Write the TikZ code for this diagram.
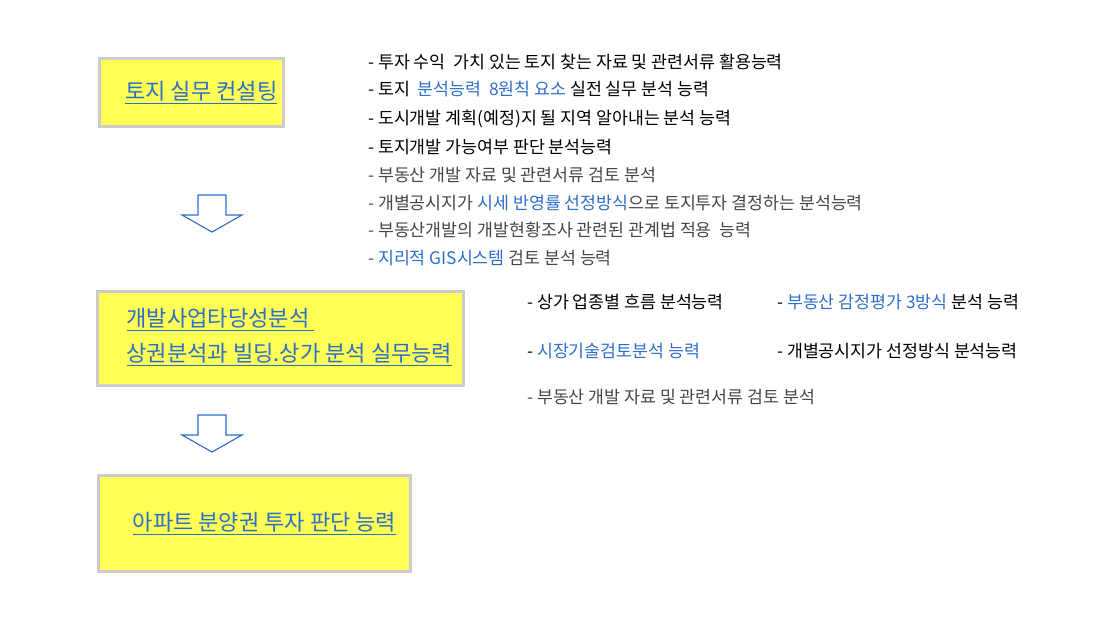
\documentclass[tikz,border=0pt]{standalone}
\usepackage{fontspec}
\setmainfont{Noto Sans CJK KR}
\definecolor{txtblue}{RGB}{45,110,200}
\definecolor{boxyellow}{RGB}{255,255,85}
\definecolor{txtgray}{RGB}{70,70,70}
\newcommand{\bl}[1]{\textcolor{txtblue}{#1}}
\newcommand{\hollowarrow}[1]{%
  \draw[txtblue,thick,fill=white,line join=miter,shift={#1}]
    (-14,0) -- (14,0) -- (14,20) -- (30,20) -- (0,37) -- (-30,20) -- (-14,20) -- cycle;}
\begin{document}
\begin{tikzpicture}[x=0.025cm,y=-0.025cm,
    titlebox/.style={fill=boxyellow,draw=black!20,line width=2pt,anchor=north west,
      font=\fontsize{15.7}{21}\selectfont,text=txtblue,align=left,inner sep=0pt},
    item/.style={anchor=west,font=\fontsize{12.3}{13}\selectfont,inner sep=0pt},
    greyitem/.style={item,text=txtgray}
    ]
  \useasboundingbox (0,0) rectangle (1100,619);

  % title boxes
  \node (land) [titlebox,minimum width=4.6cm,minimum height=1.7cm] at (98,57)
    {\hspace{0.5cm}\underline{토지 실무 컨설팅}};
  \node (dev) [titlebox,minimum width=9.15cm,minimum height=2.35cm] at (96,290)
    {\hspace{0.45cm}\begin{tabular}{@{}l@{}}\underline{개발사업타당성분석\ }\\[4pt]\underline{상권분석과 빌딩.상가 분석 실무능력}\end{tabular}};
  \node (apt) [titlebox,minimum width=7.8cm,minimum height=2.4cm] at (97,474)
    {\hspace{0.5cm}\underline{아파트 분양권 투자 판단 능력}};

  % arrows
  \hollowarrow{(212,195)}
  \hollowarrow{(212,415)}

  % land items
  \node (l1) [item] at (368,62) {- 투자 수익 \ 가치 있는 토지 찾는 자료 및 관련서류 활용능력};
  \node (l2) [item] at (368,89) {- 토지 \ \bl{분석능력 \ 8원칙 요소} 실전 실무 분석 능력};
  \node (l3) [item] at (368,119) {- 도시개발 계획(예정)지 될 지역 알아내는 분석 능력};
  \node (l4) [item] at (368,147) {- 토지개발 가능여부 판단 분석능력};
  \node (l5) [greyitem] at (368,175) {- 부동산 개발 자료 및 관련서류 검토 분석};
  \node (l6) [greyitem] at (368,203) {- 개별공시지가 \bl{시세 반영률 선정방식}으로 토지투자 결정하는 분석능력};
  \node (l7) [greyitem] at (368,230) {- 부동산개발의 개발현황조사 관련된 관계법 적용 \ 능력};
  \node (l8) [greyitem] at (368,258) {- \bl{지리적 GIS시스템} 검토 분석 능력};

  % development items
  \node (d1) [item] at (527,302) {- 상가 업종별 흐름 분석능력};
  \node (d2) [item] at (777,302) {- \bl{부동산 감정평가 3방식} 분석 능력};
  \node (d3) [item] at (527,351) {- \bl{시장기술검토분석 능력}};
  \node (d4) [item] at (777,351) {- 개별공시지가 선정방식 분석능력};
  \node (d5) [greyitem] at (527,397) {- 부동산 개발 자료 및 관련서류 검토 분석};
\end{tikzpicture}
\end{document}
